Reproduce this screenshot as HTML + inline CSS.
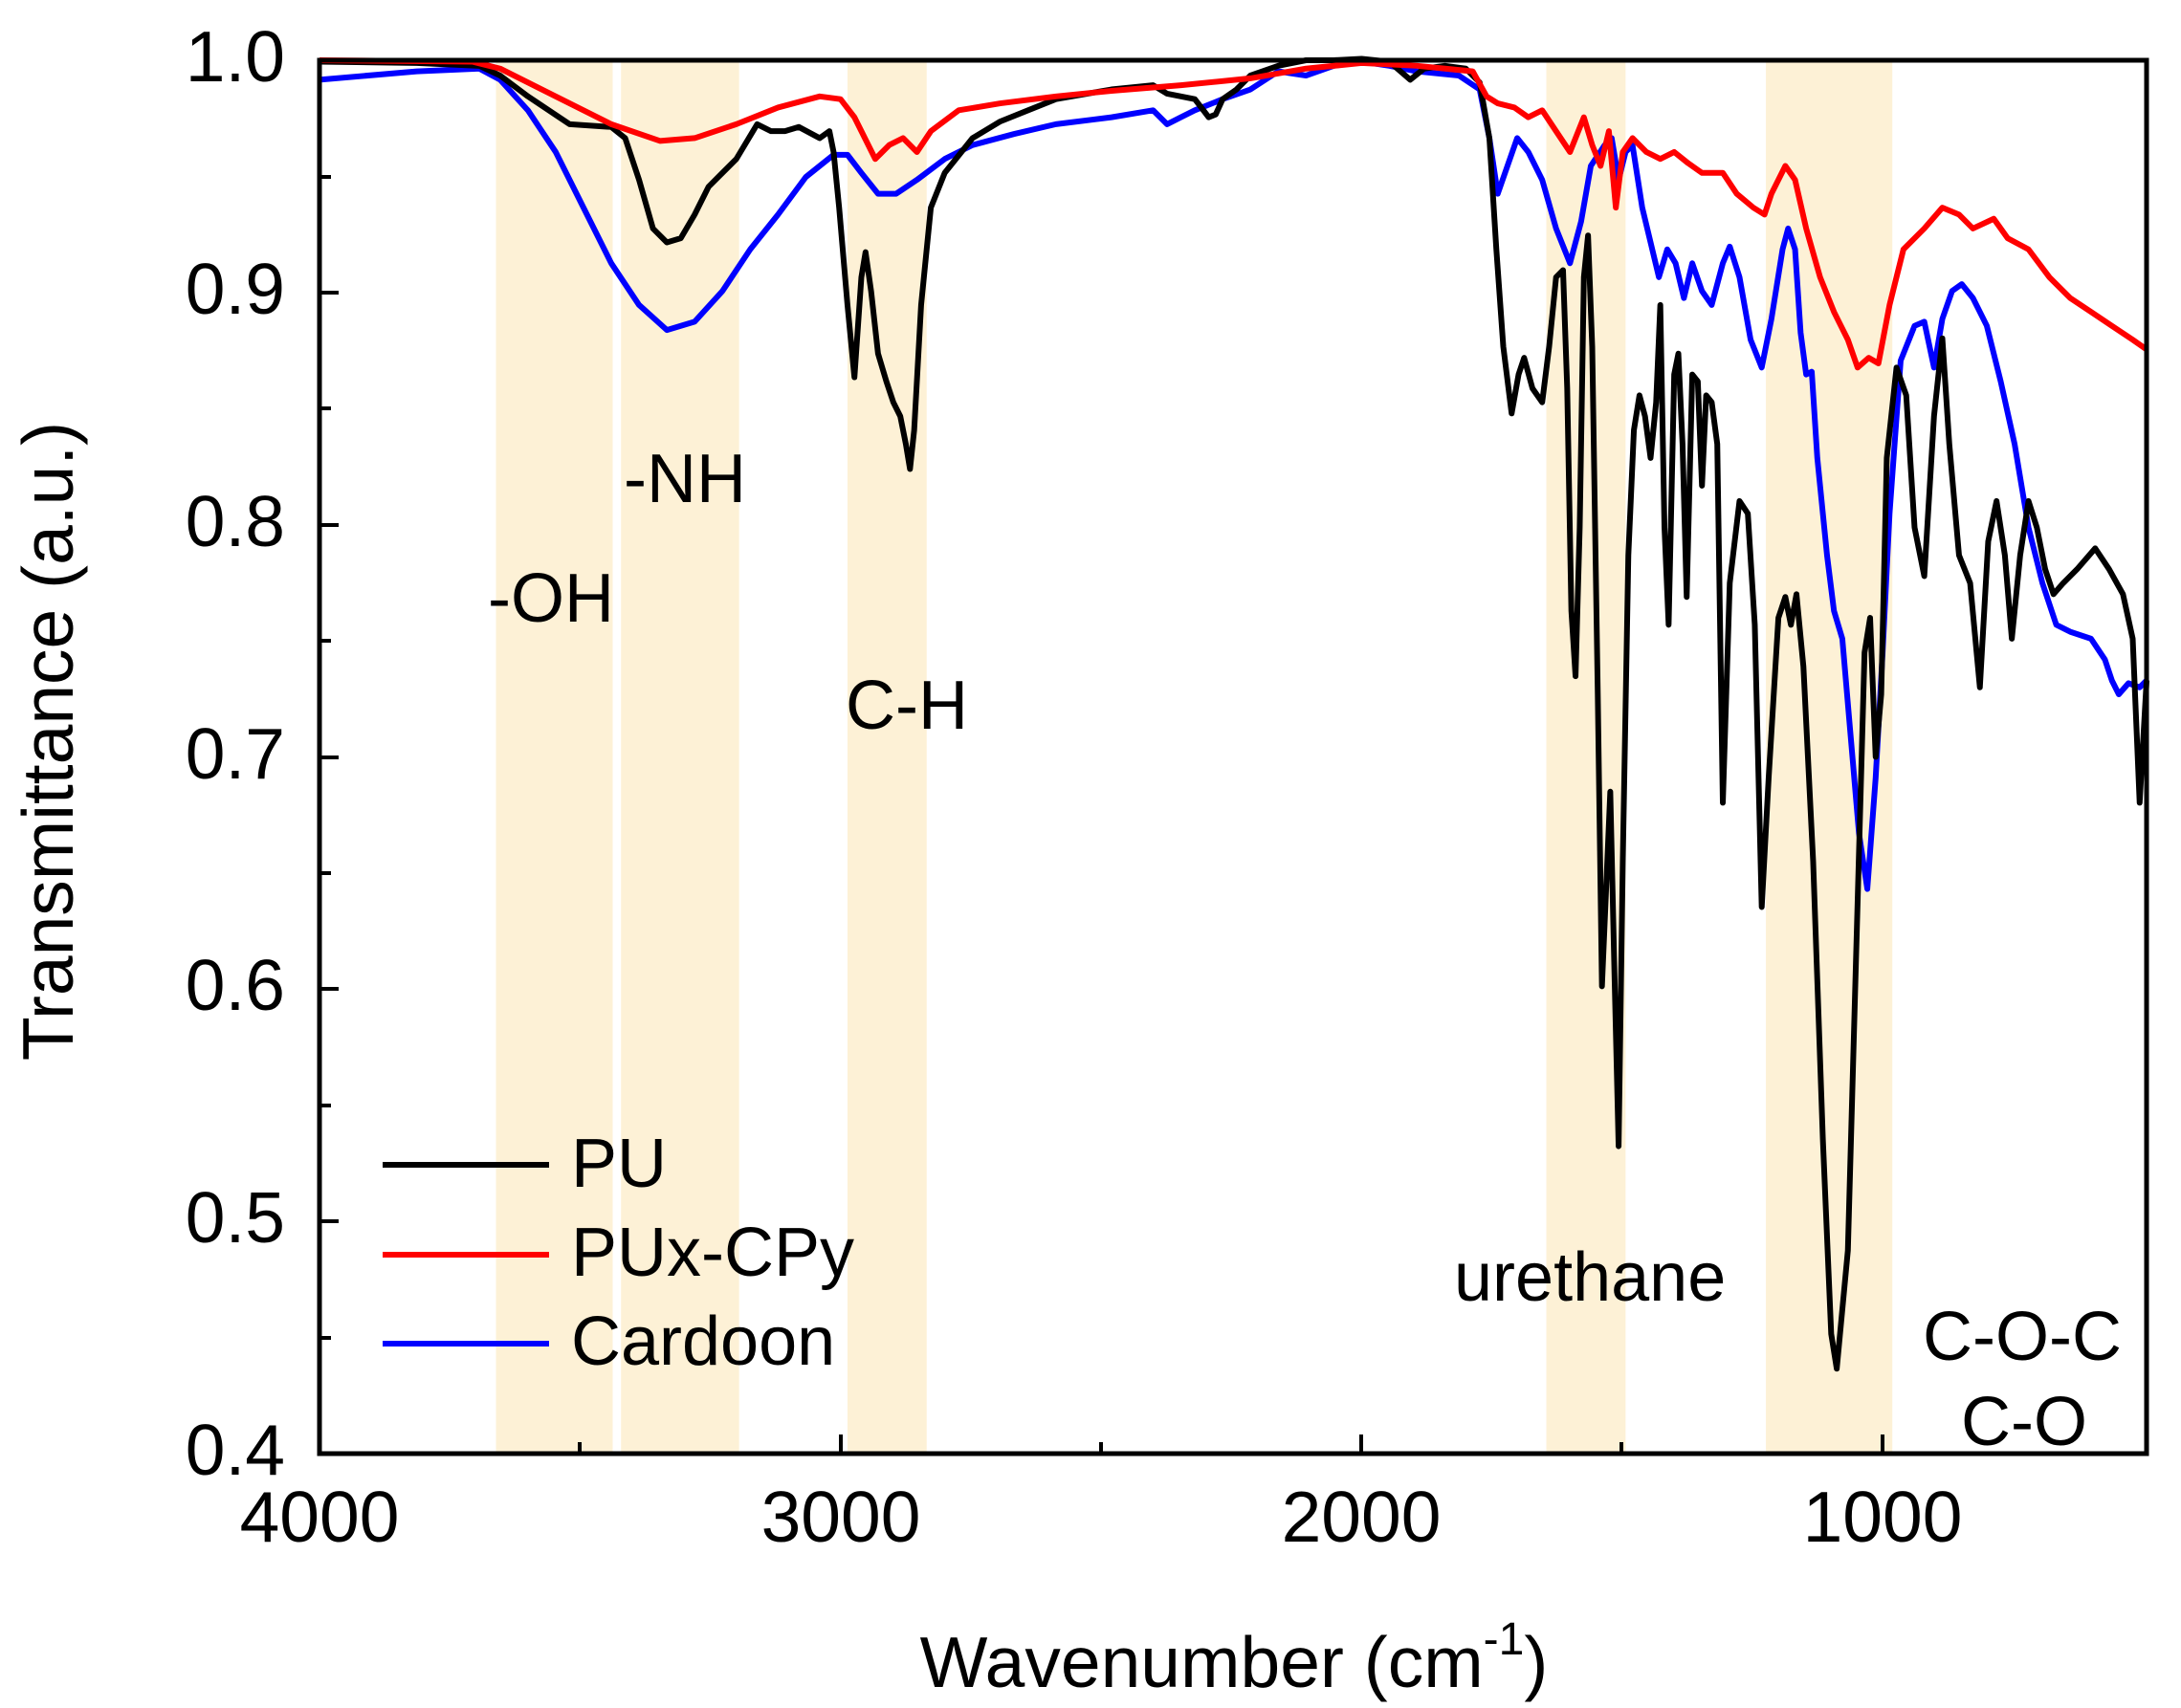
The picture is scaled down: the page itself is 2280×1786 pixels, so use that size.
<!DOCTYPE html>
<html><head><meta charset="utf-8"><style>
html,body{margin:0;padding:0;background:#fff;}
svg{display:block;}
text{font-family:"Liberation Sans",Arial,sans-serif;fill:#000;}
</style></head><body>
<svg width="2280" height="1786" viewBox="0 0 2280 1786" xmlns="http://www.w3.org/2000/svg">
<rect width="2280" height="1786" fill="#fff"/>
<g transform="translate(334,63) scale(1.4525,1.454) translate(-230,-44)">
 <g fill="#fdf1d6">
  <rect x="357" y="44" width="84" height="1002"/>
  <rect x="447" y="44" width="85" height="1002"/>
  <rect x="610" y="44" width="57" height="1002"/>
  <rect x="1113" y="44" width="57" height="1002"/>
  <rect x="1271" y="44" width="91" height="1002"/>
 </g>
 <polyline vector-effect="non-scaling-stroke" stroke="#0000ff" stroke-width="6" stroke-linejoin="round" fill="none" points="230,58 300,52 345,50 360,58 380,80 400,110 420,150 440,190 460,220 480,238 500,232 520,210 540,180 560,155 580,128 600,112 610,112 620,125 632,140 645,140 660,130 680,115 700,105 730,97 760,90 800,85 830,80 840,90 850,85 860,80 880,72 900,65 920,52 940,55 960,48 980,45 1000,48 1020,52 1050,55 1065,65 1072,100 1078,140 1085,120 1092,100 1100,110 1110,130 1120,165 1130,190 1138,160 1145,120 1155,105 1160,100 1165,130 1170,110 1175,105 1182,150 1188,175 1194,200 1200,180 1206,190 1212,215 1218,190 1225,210 1232,220 1240,190 1245,178 1252,200 1260,245 1268,265 1275,230 1283,180 1287,165 1292,180 1296,240 1300,270 1304,268 1308,330 1315,400 1320,440 1326,460 1332,530 1338,600 1344,640 1350,560 1355,470 1360,370 1368,260 1378,235 1385,232 1392,265 1398,230 1405,210 1412,205 1420,215 1430,235 1440,275 1450,320 1460,380 1470,420 1480,450 1490,455 1505,460 1515,475 1520,490 1525,500 1532,492 1540,495 1545,490"/>
 <polyline vector-effect="non-scaling-stroke" stroke="#000" stroke-width="6" stroke-linejoin="round" fill="none" points="230,45 300,46 345,48 360,55 380,70 410,90 440,92 450,100 460,130 470,165 480,175 490,172 500,155 510,135 520,125 530,115 545,90 555,95 565,95 575,92 590,100 597,95 600,110 604,150 610,220 615,272 620,200 623,182 627,210 632,255 638,275 643,290 648,300 652,320 655,338 658,310 663,220 670,150 680,125 700,100 720,88 740,80 760,72 800,65 830,62 840,68 860,72 870,85 875,83 880,72 890,65 900,55 920,48 940,44 960,44 980,43 1000,45 1015,58 1025,50 1040,48 1055,50 1065,60 1072,100 1077,180 1082,250 1088,298 1093,270 1097,258 1103,280 1110,290 1115,250 1120,200 1125,195 1128,280 1131,440 1134,487 1137,380 1140,200 1143,170 1146,250 1150,500 1153,710 1156,640 1159,570 1162,700 1165,825 1168,620 1172,400 1176,310 1180,285 1184,300 1188,330 1192,290 1195,220 1198,380 1201,450 1205,270 1208,255 1211,320 1214,430 1218,270 1222,275 1225,350 1228,285 1232,290 1236,320 1240,578 1245,420 1252,361 1258,370 1263,450 1268,653 1273,560 1280,445 1285,430 1289,450 1293,428 1298,480 1305,620 1312,820 1318,960 1322,985 1330,900 1337,650 1342,470 1346,445 1350,545 1354,500 1358,330 1365,265 1372,285 1378,380 1385,415 1392,300 1398,244 1403,320 1410,400 1418,420 1425,495 1431,390 1437,361 1443,400 1448,460 1454,400 1460,361 1466,380 1472,410 1478,428 1485,420 1495,410 1508,395 1518,410 1528,428 1535,460 1540,578 1545,490"/>
 <polyline vector-effect="non-scaling-stroke" stroke="#ff0000" stroke-width="6" stroke-linejoin="round" fill="none" points="230,44 340,45 360,50 400,70 440,90 475,102 500,100 530,90 560,78 590,70 605,72 615,85 630,115 640,105 650,100 660,110 670,95 690,80 720,75 760,70 800,66 850,62 900,57 940,50 980,46 1020,48 1060,52 1070,70 1078,75 1090,78 1100,85 1110,80 1120,95 1130,110 1140,85 1146,105 1152,120 1158,95 1163,150 1168,110 1175,100 1185,110 1195,115 1205,110 1215,118 1225,125 1240,125 1250,140 1262,150 1270,155 1275,140 1285,120 1292,130 1300,165 1310,200 1320,225 1330,245 1337,265 1345,258 1352,262 1360,220 1370,180 1385,165 1398,150 1410,155 1420,165 1435,158 1445,172 1460,180 1475,200 1490,215 1505,225 1520,235 1535,245 1545,252"/>
</g>
<rect x="334" y="63" width="1910" height="1457" fill="none" stroke="#000" stroke-width="5"/>
<g stroke="#000" stroke-width="4">
 <line x1="334" y1="1520" x2="334" y2="1500"/>
 <line x1="879" y1="1520" x2="879" y2="1500"/>
 <line x1="1423" y1="1520" x2="1423" y2="1500"/>
 <line x1="1968" y1="1520" x2="1968" y2="1500"/>
 <line x1="606" y1="1520" x2="606" y2="1508"/>
 <line x1="1151" y1="1520" x2="1151" y2="1508"/>
 <line x1="1695" y1="1520" x2="1695" y2="1508"/>
 <line x1="334" y1="306" x2="354" y2="306"/>
 <line x1="334" y1="549" x2="354" y2="549"/>
 <line x1="334" y1="792" x2="354" y2="792"/>
 <line x1="334" y1="1034" x2="354" y2="1034"/>
 <line x1="334" y1="1277" x2="354" y2="1277"/>
 <line x1="334" y1="185" x2="346" y2="185"/>
 <line x1="334" y1="427" x2="346" y2="427"/>
 <line x1="334" y1="670" x2="346" y2="670"/>
 <line x1="334" y1="913" x2="346" y2="913"/>
 <line x1="334" y1="1156" x2="346" y2="1156"/>
 <line x1="334" y1="1399" x2="346" y2="1399"/>
</g>
<g font-size="75" text-anchor="end">
 <text x="298" y="85">1.0</text>
 <text x="298" y="328">0.9</text>
 <text x="298" y="571">0.8</text>
 <text x="298" y="814">0.7</text>
 <text x="298" y="1056">0.6</text>
 <text x="298" y="1299">0.5</text>
 <text x="298" y="1542">0.4</text>
</g>
<g font-size="75" text-anchor="middle">
 <text x="334" y="1612">4000</text>
 <text x="879" y="1612">3000</text>
 <text x="1423" y="1612">2000</text>
 <text x="1968" y="1612">1000</text>
 <text x="1290" y="1764">Wavenumber (cm<tspan font-size="48" dy="-34">-1</tspan><tspan dy="34">)</tspan></text>
</g>
<text font-size="75" text-anchor="middle" transform="translate(76,775) rotate(-90)">Transmittance (a.u.)</text>
<g font-size="72">
 <text x="510" y="650">-OH</text>
 <text x="652" y="525">-NH</text>
 <text x="884" y="762">C-H</text>
 <text x="1520" y="1360">urethane</text>
 <text x="2010" y="1422">C-O-C</text>
 <text x="2050" y="1511">C-O</text>
 <text x="597" y="1241">PU</text>
 <text x="597" y="1334">PUx-CPy</text>
 <text x="597" y="1427">Cardoon</text>
</g>
<g stroke-width="6">
 <line x1="400" y1="1218" x2="574" y2="1218" stroke="#000"/>
 <line x1="400" y1="1312" x2="574" y2="1312" stroke="#ff0000"/>
 <line x1="400" y1="1405" x2="574" y2="1405" stroke="#0000ff"/>
</g>
</svg>
</body></html>
